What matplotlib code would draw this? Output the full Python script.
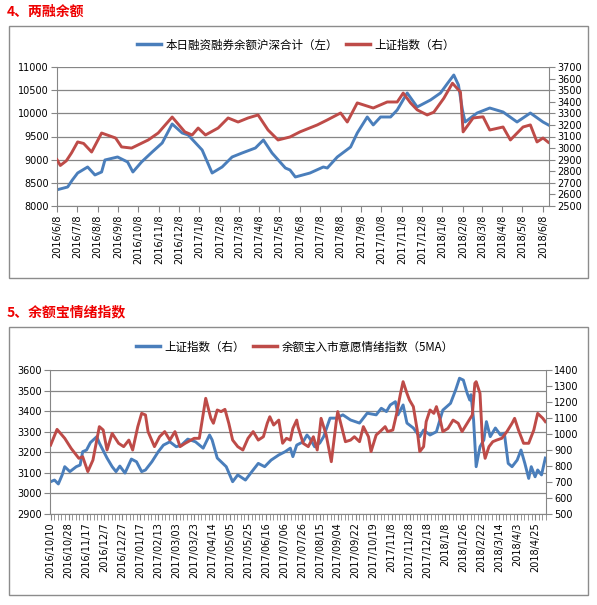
import numpy as np
import pandas as pd
import matplotlib
matplotlib.use('Agg')
import matplotlib.pyplot as plt
from matplotlib.patches import Rectangle
from matplotlib.lines import Line2D
from matplotlib.ticker import MultipleLocator

plt.rcParams['font.family'] = ['DejaVu Sans']
CJK = ['Noto Sans CJK SC', 'DejaVu Sans']

BLUE = '#4A7EBB'
RED = '#BE4B48'
GRID = '#868686'

# ---- 4、两融余额 ----
margin_dates = ['2016-06-08', '2016-06-16', '2016-06-24', '2016-07-01', '2016-07-09', '2016-07-24',
                '2016-08-04', '2016-08-14', '2016-08-19', '2016-09-07', '2016-09-22', '2016-09-30',
                '2016-10-13', '2016-10-29', '2016-11-13', '2016-11-28', '2016-12-13', '2016-12-22',
                '2017-01-12', '2017-01-27', '2017-02-11', '2017-02-26', '2017-03-13', '2017-04-02',
                '2017-04-14', '2017-04-27', '2017-05-17', '2017-05-24', '2017-06-01', '2017-06-23',
                '2017-07-13', '2017-07-19', '2017-08-03', '2017-08-23', '2017-09-02', '2017-09-17',
                '2017-09-26', '2017-10-07', '2017-10-22', '2017-11-01', '2017-11-16', '2017-12-01',
                '2017-12-21', '2018-01-05', '2018-01-16', '2018-01-25', '2018-02-01', '2018-02-07',
                '2018-02-11', '2018-03-01', '2018-03-20', '2018-04-09', '2018-04-30', '2018-05-20',
                '2018-06-08', '2018-06-16']
margin_vals = [8350, 8380, 8410, 8560, 8712, 8842,
               8670, 8734, 8993, 9058, 8950, 8734,
               8950, 9166, 9360, 9770, 9576, 9533,
               9209, 8712, 8842, 9058, 9144, 9252,
               9425, 9144, 8820, 8777, 8626, 8712,
               8842, 8820, 9058, 9273, 9576, 9921,
               9750, 9921, 9921, 10072, 10439, 10137,
               10288, 10439, 10655, 10827, 10612, 10072,
               9813, 10007, 10115, 10029, 9813, 10007,
               9813, 9750]

sh1_dates = ['2016-06-08', '2016-06-13', '2016-06-22', '2016-06-30', '2016-07-09', '2016-07-18',
             '2016-07-30', '2016-08-14', '2016-09-04', '2016-09-13', '2016-09-28', '2016-10-23',
             '2016-11-07', '2016-11-28', '2016-12-17', '2016-12-28', '2017-01-06', '2017-01-17',
             '2017-02-05', '2017-02-20', '2017-03-07', '2017-03-22', '2017-04-06', '2017-04-21',
             '2017-05-06', '2017-05-24', '2017-06-08', '2017-07-04', '2017-07-19', '2017-08-08',
             '2017-08-18', '2017-09-02', '2017-09-26', '2017-10-17', '2017-11-01', '2017-11-10',
             '2017-11-21', '2017-12-01', '2017-12-16', '2017-12-26', '2018-01-10', '2018-01-23',
             '2018-02-04', '2018-02-08', '2018-02-23', '2018-03-10', '2018-03-20', '2018-04-09',
             '2018-04-20', '2018-05-09', '2018-05-20', '2018-05-30', '2018-06-08', '2018-06-16']
sh1_vals = [2900, 2850, 2890, 2960, 3053, 3040,
            2966, 3130, 3087, 3010, 3000, 3070,
            3130, 3268, 3140, 3113, 3173, 3113,
            3173, 3260, 3225, 3260, 3286, 3156,
            3070, 3096, 3140, 3200, 3243, 3303,
            3225, 3390, 3346, 3398, 3398, 3475,
            3390, 3330, 3286, 3310, 3430, 3560,
            3484, 3140, 3260, 3270, 3156, 3182,
            3070, 3182, 3200, 3053, 3087, 3050]

month_labels = ['2016/6/8', '2016/7/8', '2016/8/8', '2016/9/8', '2016/10/8', '2016/11/8', '2016/12/8',
                '2017/1/8', '2017/2/8', '2017/3/8', '2017/4/8', '2017/5/8', '2017/6/8', '2017/7/8',
                '2017/8/8', '2017/9/8', '2017/10/8', '2017/11/8', '2017/12/8', '2018/1/8', '2018/2/8',
                '2018/3/8', '2018/4/8', '2018/5/8', '2018/6/8']

# ---- 5、余额宝情绪指数 ----
sh2_dates = ['2016-10-10', '2016-10-13', '2016-10-18', '2016-10-21', '2016-10-25', '2016-10-31',
             '2016-11-07', '2016-11-10', '2016-11-14', '2016-11-17', '2016-11-22', '2016-11-29',
             '2016-12-01', '2016-12-09', '2016-12-15', '2016-12-20', '2016-12-23', '2016-12-29',
             '2017-01-06', '2017-01-12', '2017-01-18', '2017-01-23', '2017-02-06', '2017-02-13',
             '2017-02-17', '2017-02-24', '2017-03-03', '2017-03-09', '2017-03-16', '2017-03-24',
             '2017-04-05', '2017-04-12', '2017-04-14', '2017-04-20', '2017-04-25', '2017-05-02',
             '2017-05-09', '2017-05-15', '2017-05-23', '2017-06-01', '2017-06-08', '2017-06-15',
             '2017-06-22', '2017-06-30', '2017-07-07', '2017-07-13', '2017-07-17', '2017-07-20',
             '2017-07-27', '2017-08-01', '2017-08-03', '2017-08-09', '2017-08-15', '2017-08-18',
             '2017-08-25', '2017-09-01', '2017-09-08', '2017-09-18', '2017-09-27', '2017-10-12',
             '2017-10-23', '2017-10-27', '2017-11-02', '2017-11-07', '2017-11-13', '2017-11-15',
             '2017-11-21', '2017-11-24', '2017-12-01', '2017-12-08', '2017-12-13', '2017-12-20',
             '2017-12-27', '2018-01-04', '2018-01-12', '2018-01-18', '2018-01-23', '2018-01-26',
             '2018-01-31', '2018-02-02', '2018-02-05', '2018-02-07', '2018-02-09', '2018-02-14',
             '2018-02-26', '2018-02-28', '2018-03-05', '2018-03-09', '2018-03-15', '2018-03-20',
             '2018-03-23', '2018-03-28', '2018-04-03', '2018-04-10', '2018-04-13', '2018-04-18',
             '2018-04-20', '2018-04-25', '2018-04-27', '2018-05-04', '2018-05-09']
sh2_vals = [3057, 3065, 3046, 3090, 3130, 3106,
            3130, 3138, 3203, 3211, 3247, 3276,
            3245, 3172, 3130, 3106, 3133, 3099,
            3167, 3154, 3106, 3114, 3154, 3203,
            3235, 3251, 3227, 3235, 3264, 3251,
            3220, 3284, 3260, 3172, 3154, 3130,
            3057, 3090, 3065, 3106, 3146, 3130,
            3162, 3187, 3203, 3220, 3179, 3235,
            3251, 3284, 3269, 3227, 3245, 3276,
            3366, 3366, 3382, 3357, 3342, 3390,
            3382, 3414, 3398, 3430, 3446, 3382,
            3430, 3342, 3318, 3276, 3308, 3284,
            3300, 3405, 3438, 3503, 3560, 3551,
            3487, 3454, 3480, 3357, 3130, 3227,
            3260, 3349, 3276, 3318, 3284, 3293,
            3146, 3130, 3162, 3211, 3146, 3073,
            3130, 3081, 3114, 3090, 3172]

yeb_dates = ['2016-10-10', '2016-10-17', '2016-10-25', '2016-11-01', '2016-11-09', '2016-11-14',
             '2016-11-18', '2016-11-24', '2016-11-29', '2016-12-01', '2016-12-06', '2016-12-09',
             '2016-12-15', '2016-12-22', '2016-12-28', '2017-01-04', '2017-01-09', '2017-01-13',
             '2017-01-18', '2017-01-23', '2017-01-25', '2017-02-08', '2017-02-14', '2017-02-20',
             '2017-02-24', '2017-03-02', '2017-03-08', '2017-03-14', '2017-03-23', '2017-03-29',
             '2017-04-07', '2017-04-13', '2017-04-17', '2017-04-20', '2017-04-25', '2017-04-28',
             '2017-05-04', '2017-05-09', '2017-05-15', '2017-05-19', '2017-05-25', '2017-06-02',
             '2017-06-08', '2017-06-14', '2017-06-19', '2017-06-21', '2017-06-26', '2017-06-30',
             '2017-07-05', '2017-07-10', '2017-07-13', '2017-07-17', '2017-07-20', '2017-07-21',
             '2017-07-27', '2017-08-02', '2017-08-08', '2017-08-11', '2017-08-15', '2017-08-16',
             '2017-08-22', '2017-08-28', '2017-09-01', '2017-09-04', '2017-09-07', '2017-09-12',
             '2017-09-18', '2017-09-21', '2017-09-27', '2017-10-09', '2017-10-13', '2017-10-17',
             '2017-10-23', '2017-10-26', '2017-11-01', '2017-11-03', '2017-11-09', '2017-11-14',
             '2017-11-17', '2017-11-21', '2017-11-24', '2017-11-28', '2017-12-01', '2017-12-06',
             '2017-12-08', '2017-12-13', '2017-12-15', '2017-12-20', '2017-12-25', '2017-12-27',
             '2018-01-02', '2018-01-04', '2018-01-10', '2018-01-16', '2018-01-22', '2018-01-25',
             '2018-01-31', '2018-02-06', '2018-02-08', '2018-02-09', '2018-02-14', '2018-02-23',
             '2018-02-27', '2018-03-02', '2018-03-07', '2018-03-12', '2018-03-16', '2018-03-22',
             '2018-03-28', '2018-03-30', '2018-04-04', '2018-04-12', '2018-04-18', '2018-04-24',
             '2018-04-27', '2018-05-07', '2018-05-09']
yeb_vals = [931, 1029, 973, 910, 848, 858,
            765, 837, 962, 1046, 1025, 900,
            1004, 942, 921, 962, 900, 1046,
            1129, 1119, 1015, 921, 983, 1015,
            962, 1015, 921, 942, 973, 973,
            1223, 1098, 1067, 1150, 1140, 1154,
            1067, 962, 921, 900, 973, 1015,
            962, 983, 1067, 1108, 1056, 1087,
            942, 973, 962, 1035, 1087, 1046,
            942, 921, 983, 900, 1025, 1098,
            994, 827, 1087, 1140, 1046, 952,
            962, 983, 952, 1046, 983, 890,
            994, 1015, 1046, 1015, 1025, 1129,
            1254, 1327, 1254, 1212, 1171, 1025,
            890, 921, 1077, 1150, 1129, 1171,
            1087, 1015, 1035, 1087, 1067, 1015,
            1067, 1119, 1317, 1327, 1254, 942,
            848, 921, 952, 962, 973, 1015,
            1067, 1098, 1025, 942, 942, 1025,
            1129, 1098, 1077]

cat_labels = ['2016/10/10', '2016/10/28', '2016/11/17', '2016/12/7', '2016/12/27', '2017/01/17',
              '2017/02/13', '2017/03/03', '2017/03/23', '2017/04/14', '2017/05/05', '2017/05/25',
              '2017/06/16', '2017/07/06', '2017/07/26', '2017/08/15', '2017/09/04', '2017/09/22',
              '2017/10/19', '2017/11/8', '2017/11/28', '2017/12/18', '2018/1/8', '2018/1/26',
              '2018/2/22', '2018/3/14', '2018/4/3', '2018/4/25']
last_day = '2018-05-09'

# exchange holidays (weekdays) used to count trading days on the category axis
holidays = ['2017-01-02', '2017-01-27', '2017-01-30', '2017-01-31', '2017-02-01', '2017-02-02',
            '2017-04-03', '2017-04-04', '2017-05-01', '2017-05-29', '2017-05-30',
            '2017-10-02', '2017-10-03', '2017-10-04', '2017-10-05', '2017-10-06',
            '2018-01-01', '2018-02-15', '2018-02-16', '2018-02-19', '2018-02-20', '2018-02-21',
            '2018-04-05', '2018-04-06', '2018-04-30', '2018-05-01']

W, H = 597, 605


def fx(px):
    return px / W


def fy(py):
    return 1 - py / H


def style_axes(ax, axr):
    for a in (ax, axr):
        a.spines['top'].set_visible(False)
    ax.spines['right'].set_visible(False)
    axr.spines['left'].set_visible(False)
    axr.spines['bottom'].set_visible(False)
    for s in ('left', 'bottom'):
        ax.spines[s].set_color(GRID)
    axr.spines['right'].set_color(GRID)
    ax.tick_params(which='both', direction='out', length=4, color=GRID, labelsize=7, pad=2)
    axr.tick_params(which='both', direction='out', length=4, color=GRID, labelsize=7, pad=2)
    ax.grid(axis='y', color=GRID, lw=0.9)
    ax.set_axisbelow(True)


fig = plt.figure(figsize=(5.97, 6.05), dpi=100)

# panel frames and headings
for top, bot in ((26, 278), (327, 595)):
    fig.add_artist(Rectangle((fx(9), fy(bot)), fx(588) - fx(9), fy(top) - fy(bot),
                             transform=fig.transFigure, fill=False, ec='#8c8c8c', lw=1))
fig.text(fx(7), fy(12), '4、两融余额', color='#ee0000', fontsize=10, fontweight='bold',
         va='center', family=CJK)
fig.text(fx(7), fy(312), '5、余额宝情绪指数', color='#ee0000', fontsize=10, fontweight='bold',
         va='center', family=CJK)

# chart 4
ax1 = fig.add_axes([fx(57), fy(206), (549 - 57) / W, (206 - 67) / H])
ax1.plot(pd.to_datetime(margin_dates), margin_vals, color=BLUE, lw=2.1)
ax1.set_ylim(8000, 11000)
ax1.set_yticks(range(8000, 11001, 500))
month_pos = pd.to_datetime(month_labels, format='%Y/%m/%d')
ax1.set_xticks(month_pos)
ax1.set_xticklabels(month_labels, rotation=90)
ax1.set_xlim(pd.Timestamp('2016-06-08'), pd.Timestamp('2018-06-17'))
ax1r = ax1.twinx()
ax1r.plot(pd.to_datetime(sh1_dates), sh1_vals, color=RED, lw=2.1)
ax1r.set_ylim(2500, 3700)
ax1r.set_yticks(range(2500, 3701, 100))
style_axes(ax1, ax1r)

fig.legend(handles=[Line2D([], [], color=BLUE, lw=2.5), Line2D([], [], color=RED, lw=2.5)],
           labels=['本日融资融券余额沪深合计（左）', '上证指数（右）'],
           loc='center', bbox_to_anchor=(fx(296), fy(45)), ncol=2, frameon=False,
           prop={'family': CJK, 'size': 8.3}, handlelength=2.1, handletextpad=0.4,
           columnspacing=0.7)

# chart 5 (trading-day category axis)
start = np.datetime64('2016-10-10')
hol = np.array(holidays, dtype='datetime64[D]')


def cat_index(dates):
    return np.busday_count(start, np.array(dates, dtype='datetime64[D]'), holidays=hol)


n_cat = int(np.busday_count(start, np.datetime64(last_day), holidays=hol)) + 1
ax2 = fig.add_axes([fx(50), fy(514), (546 - 50) / W, (514 - 370) / H])
ax2.plot(cat_index(sh2_dates), sh2_vals, color=BLUE, lw=2.1)
ax2.set_ylim(2900, 3600)
ax2.set_yticks(range(2900, 3601, 100))
lab_days = pd.to_datetime(cat_labels, format='%Y/%m/%d').values.astype('datetime64[D]')
ax2.set_xticks(cat_index(lab_days))
ax2.set_xticklabels(cat_labels, rotation=90)
ax2.xaxis.set_minor_locator(MultipleLocator(14 / 5))
ax2.set_xlim(-0.5, n_cat - 0.5)
ax2r = ax2.twinx()
ax2r.plot(cat_index(yeb_dates), yeb_vals, color=RED, lw=2.1)
ax2r.set_ylim(500, 1400)
ax2r.set_yticks(range(500, 1401, 100))
style_axes(ax2, ax2r)

fig.legend(handles=[Line2D([], [], color=BLUE, lw=2.5), Line2D([], [], color=RED, lw=2.5)],
           labels=['上证指数（右）', '余额宝入市意愿情绪指数（5MA）'],
           loc='center', bbox_to_anchor=(fx(295), fy(347)), ncol=2, frameon=False,
           prop={'family': CJK, 'size': 8.3}, handlelength=2.1, handletextpad=0.4,
           columnspacing=0.7)

fig.savefig('out.png', dpi=100)
